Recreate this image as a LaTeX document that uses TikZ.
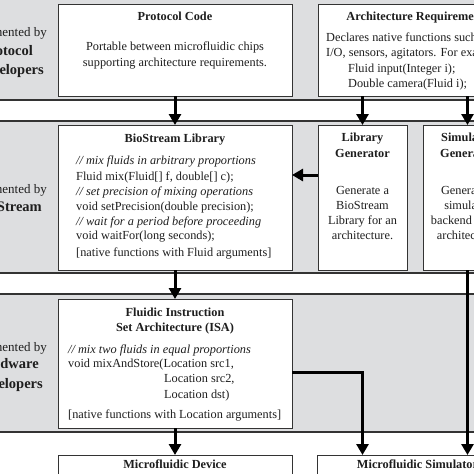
\documentclass[tikz,border=0pt]{standalone}
\usepackage{fontspec}
\setmainfont{Liberation Serif}
\usetikzlibrary{arrows.meta}
\definecolor{bandgray}{RGB}{221,222,224}
\definecolor{edgec}{RGB}{51,51,51}
\definecolor{txtc}{RGB}{30,30,30}
\tikzset{
  band/.style={draw=edgec, line width=1.1pt, fill=bandgray},
  box/.style={draw=edgec, line width=1pt, fill=white, inner sep=0pt, outer sep=0pt},
  ttl/.style={font=\fontsize{12.3}{15}\selectfont\bfseries, text=txtc, inner sep=0pt, anchor=base},
  ctxt/.style={font=\fontsize{12.3}{15}\selectfont, text=txtc, inner sep=0pt, anchor=base},
  ltxt/.style={font=\fontsize{12.3}{15}\selectfont, text=txtc, inner sep=0pt, anchor=base west},
  itxt/.style={font=\fontsize{12.3}{15}\selectfont\itshape, text=txtc, inner sep=0pt, anchor=base west},
  lbl/.style={font=\fontsize{13}{15}\selectfont, text=txtc, inner sep=0pt, anchor=base east},
  lblb/.style={font=\fontsize{14.5}{17}\selectfont\bfseries, text=txtc, inner sep=0pt, anchor=base east},
  arr/.style={line width=3pt, -{Triangle[width=12pt,length=11pt]}},
}
\begin{document}
\begin{tikzpicture}[x=1pt,y=-1pt]
\useasboundingbox (0,0) rectangle (474,474);
\clip (0,0) rectangle (474,474);
% bands
\draw[band] (-5,-5) rectangle (480,100);
\draw[band] (-5,121) rectangle (480,273);
\draw[band] (-5,294) rectangle (480,432);
% boxes
\node[box, minimum width=234pt, minimum height=92pt] (pc) at (175,50) {};
\node[box, minimum width=200pt, minimum height=92pt] (ar) at (418,50) {};
\node[box, minimum width=234pt, minimum height=145pt] (bs) at (175,197.5) {};
\node[box, minimum width=89pt, minimum height=145pt] (lg) at (362.5,197.5) {};
\node[box, minimum width=89pt, minimum height=145pt] (sg) at (467.5,197.5) {};
\node[box, minimum width=234pt, minimum height=129pt] (isa) at (175,363.5) {};
\node[box, minimum width=234pt, minimum height=45pt] (dev) at (175,477.5) {};
\node[box, minimum width=201pt, minimum height=45pt] (sim) at (417.5,477.5) {};
% arrows
\coordinate (lga) at ([yshift=22.5pt]lg.west);
\coordinate (isae) at ([yshift=-8.5pt]isa.east);
\draw[arr] (pc.south) -- (bs.north);
\draw[arr] (lg.north |- ar.south) -- (lg.north);
\draw[arr] (sg.north |- ar.south) -- (sg.north);
\draw[arr] (lga) -- (lga -| bs.east);
\draw[arr] (bs.south) -- (isa.north);
\draw[arr] (isa.south) -- (dev.north);
\draw[arr] (isae) -| (lg.south |- sim.north);
\draw[arr] (sg.south) -- (sg.south |- sim.north);
% labels
\node[lbl] (l1a) at (47,36) {Implemented by};
\node[lblb] (l1b) at (33,55) {Protocol};
\node[lblb] (l1c) at (44,74) {Developers};
\node[lbl] (l2a) at (47,193) {Implemented by};
\node[lblb] (l2b) at (42,211) {BioStream};
\node[lbl] (l3a) at (47,351) {Implemented by};
\node[lblb] (l3b) at (39,368) {Hardware};
\node[lblb] (l3c) at (43,388) {Developers};
% protocol code
\node[ttl] (pct) at (175,20) {Protocol Code};
\node[ctxt] (pc1) at (175,50) {Portable between microfluidic chips};
\node[ctxt] (pc2) at (175,66) {supporting architecture requirements.};
% architecture requirements
\node[ttl] (art) at (418,20) {Architecture Requirements};
\node[ltxt] (ar1) at (326,41) {Declares native functions such as};
\node[ltxt] (ar2) at (326,56) {I/O, sensors, agitators. For example:};
\node[ltxt] (ar3) at (348,72) {Fluid input(Integer i);};
\node[ltxt] (ar4) at (348,87) {Double camera(Fluid i);};
% biostream library
\node[ttl] (bst) at (175,142) {BioStream Library};
\node[itxt] (bs1) at (76,164) {// mix fluids in arbitrary proportions};
\node[ltxt] (bs2) at (76,180) {Fluid mix(Fluid[] f, double[] c);};
\node[itxt] (bs3) at (76,195) {// set precision of mixing operations};
\node[ltxt] (bs4) at (76,210) {void setPrecision(double precision);};
\node[itxt] (bs5) at (76,225) {// wait for a period before proceeding};
\node[ltxt] (bs6) at (76,239) {void waitFor(long seconds);};
\node[ltxt] (bs7) at (76,256) {[native functions with Fluid arguments]};
% library generator
\node[ttl] (lgt1) at (362.5,141) {Library};
\node[ttl] (lgt2) at (362.5,157) {Generator};
\node[ctxt] (lg1) at (362.5,194) {Generate a};
\node[ctxt] (lg2) at (362.5,209) {BioStream};
\node[ctxt] (lg3) at (362.5,224) {Library for an};
\node[ctxt] (lg4) at (362.5,239) {architecture.};
% simulator generator
\node[ttl] (sgt1) at (467.5,141) {Simulator};
\node[ttl] (sgt2) at (467.5,157) {Generator};
\node[ctxt] (sg1) at (467.5,194) {Generate a};
\node[ctxt] (sg2) at (467.5,209) {simulator};
\node[ctxt] (sg3) at (467.5,224) {backend for an};
\node[ctxt] (sg4) at (467.5,239) {architecture.};
% ISA
\node[ttl] (isat1) at (175,316) {Fluidic Instruction};
\node[ttl] (isat2) at (175,331) {Set Architecture (ISA)};
\node[itxt] (isa1) at (68,353) {// mix two fluids in equal proportions};
\node[ltxt] (isa2) at (68,367) {void mixAndStore(Location src1,};
\node[ltxt] (isa3) at (164,382) {Location src2,};
\node[ltxt] (isa4) at (164,398) {Location dst)};
\node[ltxt] (isa5) at (68,418) {[native functions with Location arguments]};
% bottom boxes
\node[ttl] (devt) at (175,468) {Microfluidic Device};
\node[ttl] (simt) at (417.5,468) {Microfluidic Simulator};
\end{tikzpicture}
\end{document}
